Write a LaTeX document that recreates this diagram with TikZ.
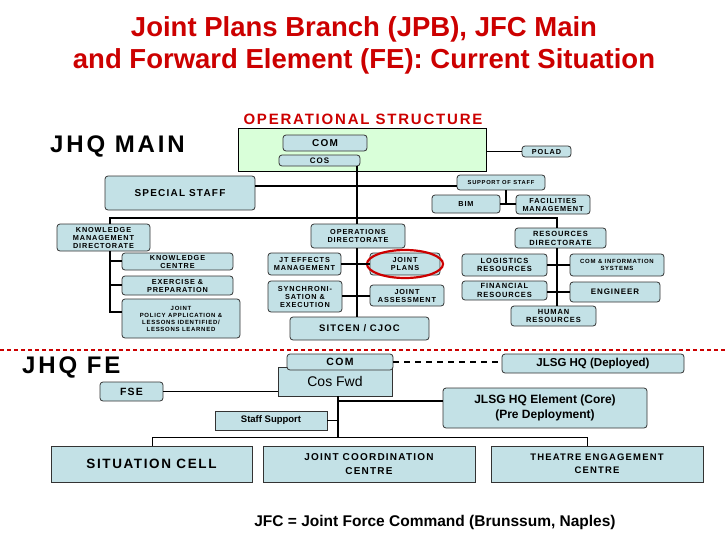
\documentclass[tikz,border=0pt]{standalone}
\usepackage{fontspec}
\setmainfont{Liberation Sans}
\newfontfamily\wide[LetterSpace=12]{Liberation Sans}
\begin{document}
\begin{tikzpicture}[x=1pt,y=-1pt,
 b/.style={draw=black!80,fill=boxc,rounded corners=3pt,inner sep=0pt,align=center,font=\wide\fontsize{7.3}{8}\selectfont\bfseries,line width=0.8pt},
 sq/.style={b,rounded corners=0pt},
 ln/.style={line width=1.8pt},
 tn/.style={line width=1pt}]
\definecolor{boxc}{HTML}{C3E1E6}
\definecolor{tred}{HTML}{CC0000}
\newcommand{\bx}[7][]{\node[b,#1,minimum width={(#5-#3)*1pt},minimum height={(#6-#4)*1pt}] (#2) at ({(#3+#5)/2},{(#4+#6)/2}) {#7};}
\useasboundingbox (0,0) rectangle (728,546);
\node[text=tred,font=\fontsize{27.5}{32}\selectfont\bfseries,align=center] (t) at (364,45) {Joint Plans Branch (JPB), JFC Main\\and Forward Element (FE): Current Situation};
\node[text=tred,font=\wide\fontsize{15}{17}\selectfont\bfseries] (os) at (363,119) {OPERATIONAL STRUCTURE};
\node[anchor=west,font=\wide\fontsize{24}{26}\selectfont\bfseries,inner sep=0pt] (jm) at (50,146) {JHQ MAIN};
\node[draw=black,fill=green!15!white,minimum width=248pt,minimum height=43pt,inner sep=0pt,line width=0.6pt] (g) at (362,149.5) {};
\bx[font=\wide\fontsize{10}{11}\selectfont\bfseries]{com}{283}{135}{367}{151}{COM}
\bx[font=\wide\fontsize{8}{9}\selectfont\bfseries]{cos}{279}{155}{360}{166}{COS}
\bx{polad}{522}{146}{571}{157}{POLAD}
\bx[font=\wide\fontsize{10}{11}\selectfont\bfseries]{ss}{105}{176}{255}{210}{SPECIAL STAFF}
\bx[font=\wide\fontsize{5.8}{6}\selectfont\bfseries]{sos}{457}{175}{545}{190}{SUPPORT OF STAFF}
\bx{bim}{432}{195}{500}{213}{BIM}
\bx{fac}{516}{195}{590}{214}{FACILITIES\\MANAGEMENT}
\bx{kmd}{57}{224}{150}{251}{KNOWLEDGE\\MANAGEMENT\\DIRECTORATE}
\bx{kc}{122}{253}{233}{270}{KNOWLEDGE\\CENTRE}
\bx{ex}{122}{276}{233}{295}{EXERCISE \&\\PREPARATION}
\bx[font=\wide\fontsize{6}{7}\selectfont\bfseries]{jp}{122}{299}{240}{338}{JOINT\\POLICY APPLICATION \&\\LESSONS IDENTIFIED/\\LESSONS LEARNED}
\bx{od}{311}{224}{405}{248}{OPERATIONS\\DIRECTORATE}
\bx{jte}{268}{253}{341}{275}{JT EFFECTS\\MANAGEMENT}
\bx{jpl}{370}{253}{440}{275}{JOINT\\PLANS}
\bx{syn}{268}{281}{342}{312}{SYNCHRONI-\\SATION \&\\EXECUTION}
\bx{ja}{370}{285}{444}{306}{JOINT\\ASSESSMENT}
\bx[font=\wide\fontsize{9.5}{10}\selectfont\bfseries]{sit}{290}{317}{429}{340}{SITCEN / CJOC}
\bx[font=\wide\fontsize{7.5}{9}\selectfont\bfseries]{rd}{515}{228}{606}{248}{RESOURCES\\DIRECTORATE}
\bx[font=\wide\fontsize{7.5}{8.5}\selectfont\bfseries]{log}{462}{254}{547}{276}{LOGISTICS\\RESOURCES}
\bx[font=\wide\fontsize{6}{7}\selectfont\bfseries]{cis}{570}{254}{664}{276}{COM \& INFORMATION\\SYSTEMS}
\bx[font=\wide\fontsize{7.5}{8.5}\selectfont\bfseries]{fin}{462}{281}{547}{300}{FINANCIAL\\RESOURCES}
\bx[font=\wide\fontsize{8}{9}\selectfont\bfseries]{eng}{570}{282}{660}{302}{ENGINEER}
\bx[font=\wide\fontsize{7.5}{8.5}\selectfont\bfseries]{hr}{511}{306}{596}{326}{HUMAN\\RESOURCES}
\draw[tred,line width=2.2pt] (jpl.center) ellipse [x radius=38,y radius=14];
% main connectors
\draw[ln] (g.east|-polad) -- (polad.west);
\draw[ln] (cos.south-|357,0) -- (od.north-|357,0) (od.south-|357,0) -- (sit.north-|357,0);
\draw[ln] (ss.east|-0,186) -- (sos.west|-0,186);
\draw[ln] (sos.south-|506,0) -- (506,204) (bim.east|-0,204) -- (fac.west|-0,204);
\draw[ln] (kmd.north-|110,0) -- (110,218) -- (557,218) -- (rd.north-|557,0);
\draw[ln] (kmd.south-|110,0) -- (110,312) -- (jp.west|-0,312);
\draw[ln] (110,261) -- (kc.west|-0,261) (110,285) -- (ex.west|-0,285);
\draw[ln] (jte.east|-0,264) -- (jpl.west|-0,264) (syn.east|-0,296) -- (ja.west|-0,296);
\draw[ln] (rd.south-|557,0) -- (hr.north-|557,0);
\draw[ln] (log.east|-0,265) -- (cis.west|-0,265) (fin.east|-0,292) -- (eng.west|-0,292);
% divider
\draw[tred,line width=2.4pt,dash pattern=on 4pt off 3pt] (0,350) -- (728,350);
% FE
\node[anchor=west,font=\wide\fontsize{24}{26}\selectfont\bfseries,inner sep=0pt] (jf) at (22,367) {JHQ FE};
\bx[sq,font=\fontsize{14}{15}\selectfont]{cf}{278}{367}{392}{396}{Cos Fwd}
\bx[font=\wide\fontsize{10.5}{11}\selectfont\bfseries]{fcom}{287}{354}{393}{370}{COM}
\bx[font=\fontsize{11.5}{12}\selectfont\bfseries]{jd}{502}{354}{684}{373}{JLSG HQ (Deployed)}
\bx[font=\wide\fontsize{10.5}{11}\selectfont\bfseries]{fse}{100}{382}{163}{401}{FSE}
\bx[sq,font=\fontsize{9.5}{10}\selectfont\bfseries]{stf}{215}{411}{327}{430}{Staff Support}
\bx[font=\fontsize{12}{15}\selectfont\bfseries]{je}{443}{388}{647}{428}{JLSG HQ Element (Core)\\(Pre Deployment)}
\bx[sq,font=\wide\fontsize{13.5}{15}\selectfont\bfseries]{sc}{51}{446}{252}{482}{SITUATION CELL}
\bx[sq,font=\wide\fontsize{10}{14}\selectfont\bfseries]{jcc}{263}{446}{475}{482}{JOINT COORDINATION\\CENTRE}
\bx[sq,font=\wide\fontsize{9.5}{13}\selectfont\bfseries]{tec}{491}{446}{703}{482}{THEATRE ENGAGEMENT\\CENTRE}
\draw[ln,dash pattern=on 6pt off 5pt] (fcom.east) -- (jd.west|-fcom.east);
\draw[ln] (fse.east) -- (cf.west|-fse.east);
\draw[ln] (cf.south-|338,0) -- (338,437);
\draw[ln] (338,401) -- (je.west|-0,401);
\draw[tn] (stf.east) -- (338,420.5);
\draw[tn] (sc.north-|152,0) -- (152,437) -- (587,437) -- (tec.north-|587,0);
\node[font=\fontsize{15.5}{17}\selectfont\bfseries] (foot) at (435,522) {JFC = Joint Force Command (Brunssum, Naples)};
\end{tikzpicture}
\end{document}
